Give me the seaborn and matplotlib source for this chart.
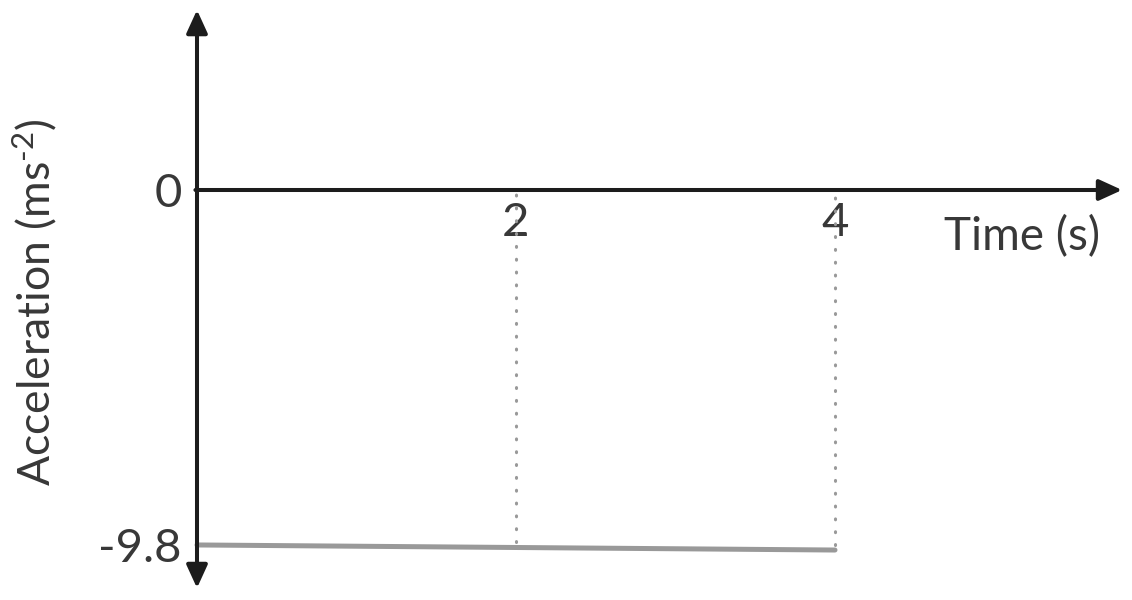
import matplotlib
matplotlib.use("Agg")
import matplotlib.pyplot as plt
import seaborn as sns
import pandas as pd

# values
time = [0, 2, 4]
accel = [-9.8, -9.87, -9.94]
x_ticks = [2, 4]
x_tick_labels = ["2", "4"]
y_ticks = [0, -9.8]
y_tick_labels = ["0", "-9.8"]

sns.set_style("white")
plt.rcParams["font.family"] = ["Lato", "DejaVu Sans"]
plt.rcParams["mathtext.fontset"] = "custom"
plt.rcParams["mathtext.rm"] = "Lato"
plt.rcParams["mathtext.default"] = "regular"

data = pd.DataFrame({"time": time, "accel": accel})

fig = plt.figure(figsize=(11.32, 6), dpi=100)
ax = fig.add_axes([0, 0, 1, 1])

ink = "#1c1c1c"
txt = "#383838"

# dotted guides down from the ticks
guide_y = [data.loc[data["time"] == t, "accel"].iloc[0] + 0.15 for t in x_ticks]
ax.vlines(x_ticks, guide_y, 0, colors="#999999", linewidth=2.2,
          linestyles=(0, (0.3, 3.9)), capstyle="round", zorder=1)

sns.lineplot(data=data, x="time", y="accel", ax=ax, color="#999999",
             linewidth=3.6, zorder=2, solid_capstyle="round")

ax.set_xlim(-197 / 159.5, 935 / 159.5)
ax.set_ylim(-410 / 36.22, 190 / 36.22)

for s in ax.spines.values():
    s.set_visible(False)
ax.spines["left"].set_position(("data", 0))
ax.spines["bottom"].set_position(("data", 0))

# axes as arrows
arrow = dict(arrowstyle="-|>,head_length=0.7,head_width=0.32", color=ink,
             lw=2.9, shrinkA=0, shrinkB=0, mutation_scale=20)
ax.annotate("", xy=(5.80, 0), xytext=(-0.01, 0), arrowprops=arrow, zorder=3)
arrow2 = dict(arrow, arrowstyle="<|-|>,head_length=0.7,head_width=0.32")
ax.annotate("", xy=(0, 4.97), xytext=(0, -10.99), arrowprops=arrow2, zorder=3)

ax.set_xticks(x_ticks, x_tick_labels)
ax.set_yticks(y_ticks, y_tick_labels)
ax.tick_params(axis="x", length=0, pad=9, labelsize=34, labelcolor=txt)
ax.tick_params(axis="y", length=0, pad=11, labelsize=34, labelcolor=txt)

ax.set_xlabel("Time (s)", fontsize=33, color=txt)
ax.xaxis.label.set_va("center")
ax.xaxis.set_label_coords(0.903, 1 - 237 / 600)

ax.set_ylabel(r"Acceleration (ms$^{\text{-}2}$)", fontsize=32, color=txt)
ax.yaxis.label.set_va("center")
ax.yaxis.set_label_coords(35 / 1132, 1 - 302 / 600)

fig.savefig("out.png", dpi=100)
